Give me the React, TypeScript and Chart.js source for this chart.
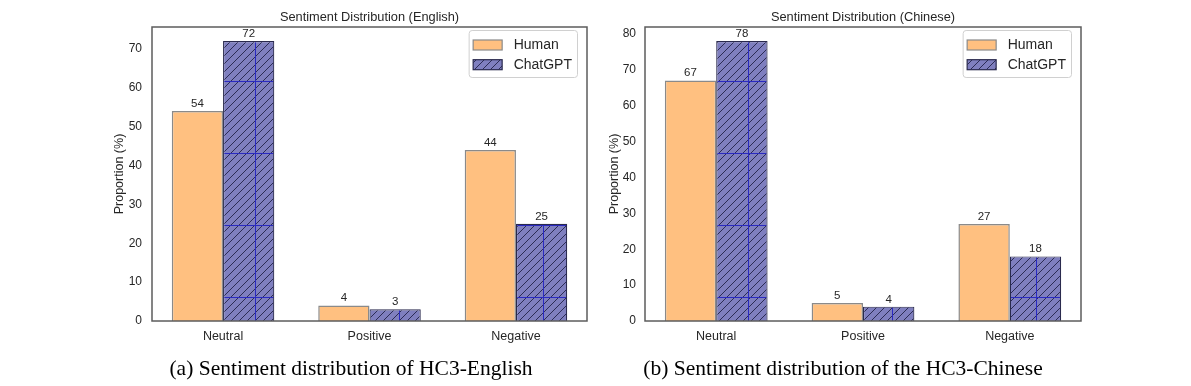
import React, { useEffect, useRef } from "react";
import { Chart, registerables } from "chart.js";
Chart.register(...registerables);

// ---------------- data ----------------
const CATEGORIES = ["Neutral", "Positive", "Negative"];
const SERIES_LABELS = ["Human", "ChatGPT"];
const EN_HUMAN = [54, 4, 44];
const EN_CHATGPT = [72, 3, 25];
const ZH_HUMAN = [67, 5, 27];
const ZH_CHATGPT = [78, 4, 18];
const TITLES = ["Sentiment Distribution (English)", "Sentiment Distribution (Chinese)"];
const Y_TITLE = "Proportion (%)";
const CAPTIONS = [
  "(a) Sentiment distribution of HC3-English",
  "(b) Sentiment distribution of the HC3-Chinese",
];
const Y_STEP = 10;

// ---------------- style ----------------
const FONT = "'Liberation Sans', Arial, sans-serif";
const TEXT = "#262626";
const HUMAN_FILL = "#ffc080";
const HUMAN_EDGE = "#8a8a8a";
const GPT_FILL = "#7f7fbf";
const GPT_EDGE = "#2a2a4e";
const FRAME = "#5c5c5c";

function makeHatch(seamX: number, seamY: number): CanvasPattern | string {
  const t = document.createElement("canvas");
  t.width = 72;
  t.height = 72;
  const c = t.getContext("2d");
  if (!c) return GPT_FILL;
  c.fillStyle = GPT_FILL;
  c.fillRect(0, 0, 72, 72);
  c.strokeStyle = "rgba(25,25,60,0.9)";
  c.lineWidth = 0.9;
  for (let d = -8; d <= 152; d += 8) {
    c.beginPath();
    c.moveTo(d, 0);
    c.lineTo(d - 72, 72);
    c.stroke();
  }
  c.strokeStyle = "#2a2ac0";
  c.lineWidth = 1;
  c.beginPath();
  c.moveTo(0, seamY);
  c.lineTo(72, seamY);
  c.moveTo(seamX, 0);
  c.lineTo(seamX, 72);
  c.stroke();
  const ctx = document.createElement("canvas").getContext("2d");
  const p = ctx ? ctx.createPattern(t, "repeat") : null;
  return p || GPT_FILL;
}

type Panel = {
  title: string;
  human: number[];
  gpt: number[];
  width: number;
  yWidth: number;
  yTitlePad: number;
  yTickPad: number;
  padRight: number;
  seamX: number;
};

function buildChart(canvas: HTMLCanvasElement, p: Panel) {
  const hatch = makeHatch(p.seamX, 9.5);
  const dataMax = Math.max(...p.human, ...p.gpt);
  const yMax = dataMax * 1.05;
  const barSpan = 0.7;
  const xPad = 0.05 * (CATEGORIES.length - 1 + barSpan);
  const xMin = -barSpan / 2 - xPad;
  const xMax = CATEGORIES.length - 1 + barSpan / 2 + xPad;

  const framePlugin = {
    id: "frameAndLabels",
    afterDatasetsDraw(chart: any) {
      const { ctx, chartArea } = chart;
      ctx.save();
      ctx.fillStyle = TEXT;
      ctx.font = `11.5px ${FONT}`;
      ctx.textAlign = "center";
      ctx.textBaseline = "alphabetic";
      chart.data.datasets.forEach((ds: any, di: number) => {
        const meta = chart.getDatasetMeta(di);
        meta.data.forEach((el: any, i: number) => {
          const v = ds.data[i].y;
          ctx.fillText(String(v), el.x, el.y - 4);
        });
      });
      ctx.strokeStyle = FRAME;
      ctx.lineWidth = 1.5;
      ctx.strokeRect(
        chartArea.left,
        chartArea.top,
        chartArea.right - chartArea.left,
        chartArea.bottom - chartArea.top
      );
      ctx.font = `12.8px ${FONT}`;
      ctx.textBaseline = "middle";
      ctx.fillText(p.title, (chartArea.left + chartArea.right) / 2, 17.5);
      ctx.restore();
    },
    afterDraw(chart: any) {
      const { ctx, chartArea } = chart;
      ctx.save();
      ctx.font = `14px ${FONT}`;
      const dss = chart.data.datasets;
      let tw = 0;
      dss.forEach((ds: any) => (tw = Math.max(tw, ctx.measureText(ds.label).width)));
      const boxW = 45 + tw + 5;
      const boxH = 47;
      const bx = chartArea.right - 10 - boxW;
      const by = chartArea.top + 3;
      ctx.beginPath();
      (ctx as any).roundRect(bx + 0.5, by + 0.5, boxW, boxH, 3);
      ctx.fillStyle = "rgba(255,255,255,0.85)";
      ctx.fill();
      ctx.strokeStyle = "#d0d0d0";
      ctx.lineWidth = 1;
      ctx.stroke();
      dss.forEach((ds: any, i: number) => {
        const ry = by + 15 + i * 19.7;
        ctx.fillStyle = ds.backgroundColor;
        ctx.fillRect(bx + 4.5, ry - 5, 29, 10);
        ctx.strokeStyle = ds.borderColor;
        ctx.lineWidth = 1.2;
        ctx.strokeRect(bx + 4.5, ry - 5, 29, 10);
        ctx.fillStyle = TEXT;
        ctx.textAlign = "left";
        ctx.textBaseline = "middle";
        ctx.fillText(ds.label, bx + 45, ry);
      });
      ctx.restore();
    },
  };

  return new Chart(canvas, {
    type: "bar",
    data: {
      datasets: [
        {
          label: SERIES_LABELS[0],
          data: p.human.map((v, i) => ({ x: i, y: v })),
          backgroundColor: HUMAN_FILL,
          borderColor: HUMAN_EDGE,
          borderWidth: 1.5,
        },
        {
          label: SERIES_LABELS[1],
          data: p.gpt.map((v, i) => ({ x: i, y: v })),
          backgroundColor: hatch as any,
          borderColor: GPT_EDGE,
          borderWidth: 1.2,
        },
      ],
    },
    options: {
      responsive: false,
      animation: false,
      devicePixelRatio: 1,
      layout: { padding: { left: 0, right: p.padRight, top: 27, bottom: 0 } },
      datasets: { bar: { categoryPercentage: barSpan, barPercentage: 1 } } as any,
      plugins: {
        legend: { display: false },
        title: { display: false },
        tooltip: { enabled: false },
      },
      scales: {
        x: {
          type: "linear",
          offset: false,
          bounds: "ticks",
          min: xMin,
          max: xMax,
          grid: { display: false, drawTicks: false, offset: false },
          border: { display: false },
          afterBuildTicks: (scale: any) => {
            scale.ticks = CATEGORIES.map((_, i) => ({ value: i }));
          },
          afterFit: (scale: any) => {
            scale.height = 65;
          },
          ticks: {
            padding: 8,
            maxRotation: 0,
            autoSkip: false,
            color: TEXT,
            font: { family: FONT, size: 12.5 },
            callback: (v: any) => CATEGORIES[v] ?? "",
          },
        },
        y: {
          min: 0,
          max: yMax,
          grid: { display: false, drawTicks: false },
          border: { display: false },
          afterBuildTicks: (scale: any) => {
            const t: any[] = [];
            for (let v = 0; v <= yMax; v += Y_STEP) t.push({ value: v });
            scale.ticks = t;
          },
          afterFit: (scale: any) => {
            scale.width = p.yWidth;
          },
          ticks: {
            padding: p.yTickPad,
            color: TEXT,
            font: { family: FONT, size: 12 },
          },
          title: {
            display: true,
            text: Y_TITLE,
            color: TEXT,
            font: { family: FONT, size: 12.5 },
            padding: { top: p.yTitlePad, bottom: 0 },
          },
        },
      },
    },
    plugins: [framePlugin],
  } as any);
}

function ChartCanvas({ panel, left }: { panel: Panel; left: number }) {
  const ref = useRef<HTMLCanvasElement | null>(null);
  useEffect(() => {
    if (!ref.current) return;
    const ch = buildChart(ref.current, panel);
    return () => ch.destroy();
  }, []);
  return (
    <canvas
      ref={ref}
      width={panel.width}
      height={386}
      style={{ position: "absolute", left, top: 0, width: panel.width, height: 386 }}
    />
  );
}

export default function App() {
  const left: Panel = {
    title: TITLES[0],
    human: EN_HUMAN,
    gpt: EN_CHATGPT,
    width: 600,
    yWidth: 152,
    yTitlePad: 112.5,
    yTickPad: 10,
    padRight: 13,
    seamX: 39.5,
  };
  const right: Panel = {
    title: TITLES[1],
    human: ZH_HUMAN,
    gpt: ZH_CHATGPT,
    width: 591,
    yWidth: 45,
    yTitlePad: 7.5,
    yTickPad: 9,
    padRight: 110,
    seamX: 4.5,
  };
  const capStyle: React.CSSProperties = {
    position: "absolute",
    top: 356,
    fontFamily: "'Liberation Serif', 'Times New Roman', serif",
    fontSize: 21.5,
    lineHeight: "24px",
    color: "#000",
    textAlign: "center",
    whiteSpace: "nowrap",
  };
  return (
    <div style={{ position: "absolute", left: 0, top: 0, width: 1191, height: 386, background: "#fff" }}>
      <ChartCanvas panel={left} left={0} />
      <ChartCanvas panel={right} left={600} />
      <div style={{ ...capStyle, left: 151, width: 400 }}>{CAPTIONS[0]}</div>
      <div style={{ ...capStyle, left: 623, width: 440 }}>{CAPTIONS[1]}</div>
    </div>
  );
}
